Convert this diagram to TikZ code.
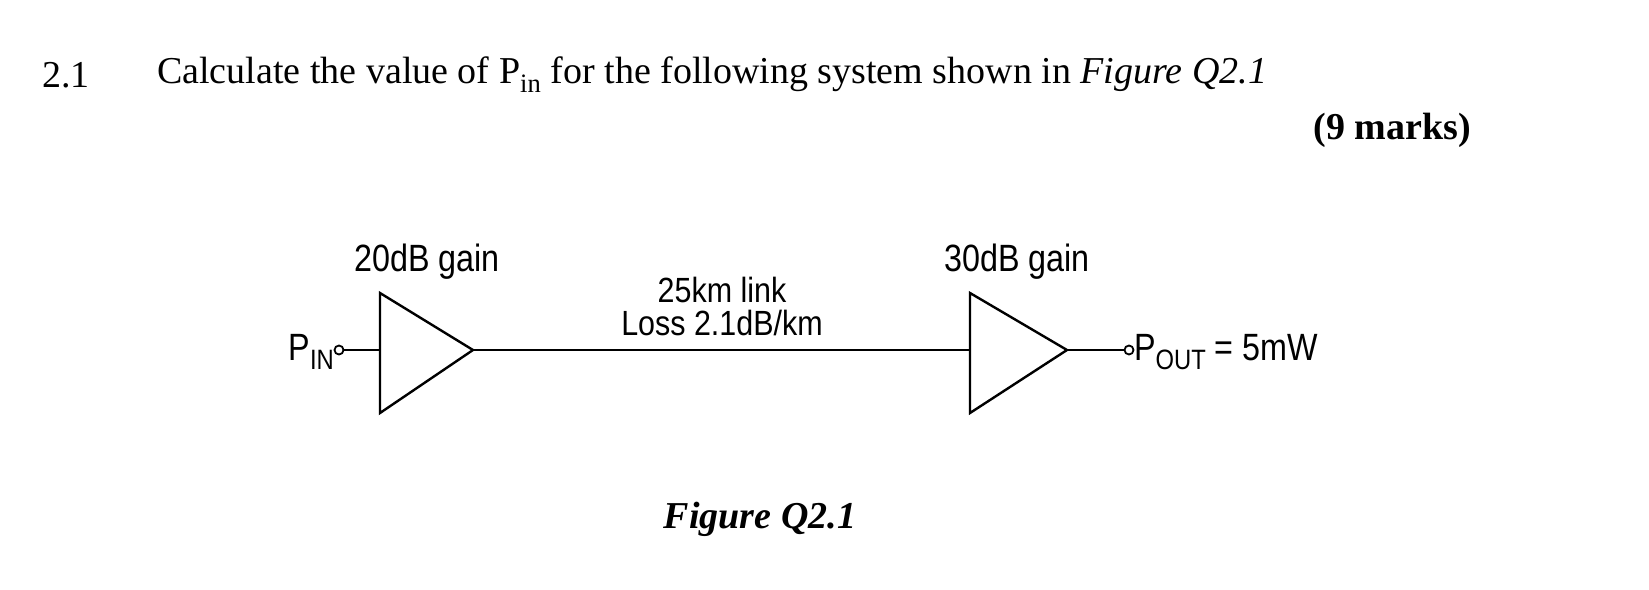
\documentclass[tikz,border=0pt]{standalone}
\usepackage{fontspec}
\setmainfont{Liberation Serif}
\newfontfamily\diag{Liberation Sans}
\begin{document}
\begin{tikzpicture}[x=1pt,y=-1pt,
  lbl/.style={font=\diag\fontsize{38}{40}\selectfont, inner sep=0pt, xscale=0.85},
  mid/.style={font=\diag\fontsize{35}{37}\selectfont, inner sep=0pt, xscale=0.87},
  hdr/.style={font=\fontsize{38}{40}\selectfont, inner sep=0pt},
  wire/.style={line width=2.4pt},
  term/.style={circle, draw, line width=1.8pt, minimum size=9pt, inner sep=0pt}]
\useasboundingbox (0,0) rectangle (1649,589);
\node[hdr, anchor=west] (num) at (42,75) {2.1};
\node[hdr, anchor=west] (q) at (157,75) {Calculate the value of P\textsubscript{in} for the following system shown in \textit{Figure Q2.1}};
\node[hdr, anchor=east] (marks) at (1471,130) {\textbf{(9 marks)}};
\node[hdr] (fig) at (760,519) {\textbf{\textit{Figure Q2.1}}};
% amplifiers
\draw[wire] (380,293) -- (380,413) -- (473,350) -- cycle;
\draw[wire] (970,293) -- (970,413) -- (1067,350) -- cycle;
\coordinate (a1in) at (380,350);
\coordinate (a1out) at (473,350);
\coordinate (a2in) at (970,350);
\coordinate (a2out) at (1067,350);
\node[term] (tin) at (339,350) {};
\node[term] (tout) at (1129,350) {};
\draw[wire] (tin) -- (a1in);
\draw[wire] (a1out) -- (a2in);
\draw[wire] (a2out) -- (tout);
\node[lbl, anchor=east] (pin) at (334,352) {P\raisebox{-0.45ex}{\fontsize{28}{30}\selectfont IN}};
\node[lbl, anchor=west] (pout) at (1134,352) {P\raisebox{-0.45ex}{\fontsize{28}{30}\selectfont OUT} = 5mW};
\node[lbl] (g1) at (427,262) {20dB gain};
\node[lbl] (g2) at (1017,262) {30dB gain};
\node[mid] (link) at (722,290) {25km link};
\node[mid] (loss) at (722,323) {Loss 2.1dB/km};
\end{tikzpicture}
\end{document}
